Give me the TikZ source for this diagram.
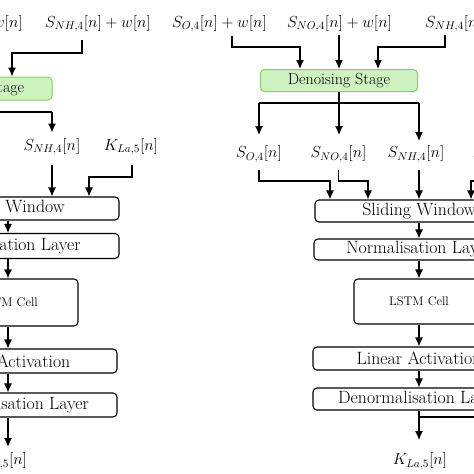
\RequirePackage{fix-cm}
\documentclass[tikz,border=0pt]{standalone}
\usepackage{fontspec}
\usetikzlibrary{arrows.meta}
\definecolor{gfill}{RGB}{206,243,192}
\definecolor{gline}{RGB}{135,205,105}
\begin{document}
\begin{tikzpicture}[x=1pt,y=-1pt,
  every node/.style={font=\fontsize{16}{19}\selectfont},
  box/.style={draw, line width=1.1pt, rounded corners=4pt, inner sep=0pt, font=\fontsize{17.8}{21}\selectfont},
  gbox/.style={draw=gline, fill=gfill, line width=1pt, rounded corners=4pt, inner sep=0pt},
  lbl/.style={inner sep=1.5pt},
  arr/.style={line width=1.3pt, -{Latex[length=9pt,width=8pt]}},
  ln/.style={line width=1.3pt}]
\useasboundingbox (0,0) rectangle (474,474);
\clip (0,0) rectangle (474,474);
\fill[white] (0,0) rectangle (474,474);

% ---------------- Right column ----------------
\node[lbl] (tO) at (219.5,23.5) {$S_{O,4}[n]+w[n]$};
\node[lbl] (tNO) at (339.5,23.5) {$S_{NO,4}[n]+w[n]$};
\node[lbl,anchor=west] (tNH) at (423.5,23.5) {$S_{NH,4}[n]+w[n]$};
\node[gbox, minimum width=157pt, minimum height=22pt] (den) at (339,80.5) {Denoising Stage};

\coordinate (c1) at (232,47); \coordinate (c2) at (300,47);
\draw[arr] ([yshift=-3pt]tO.south -| c1) -- (c1) -- (c2) -- (c2 |- den.north);
\draw[arr] ([yshift=-2pt]tNO.south -| den.north) -- (den.north);
\coordinate (c3) at (445,47); \coordinate (c4) at (378,47);
\draw[arr] ([yshift=-2pt]tNH.south -| c3) -- (c3) -- (c4) -- (c4 |- den.north);

\node[lbl] (oO) at (259,154) {$S_{O,4}[n]$};
\node[lbl] (oNO) at (338.5,154) {$S_{NO,4}[n]$};
\node[lbl] (oNH) at (416,154) {$S_{NH,4}[n]$};
\node[lbl] (oK) at (500,154) {$K_{La,5}[n]$};

\coordinate (b0) at (339,103); \coordinate (bL) at (259,103); \coordinate (bR) at (419,103);
\draw[ln] (den.south) -- (b0);
\draw[ln] (bL) -- (bR);
\draw[arr] (bL) -- ([yshift=9pt]oO.north -| bL);
\draw[arr] (b0) -- ([yshift=9pt]oNO.north -| b0);
\draw[arr] (bR) -- ([yshift=3pt]oNH.north -| bR);

\node[box, minimum width=208pt, minimum height=22pt] (sw) at (419,211) {Sliding Window};
\coordinate (d1) at (259,181); \coordinate (d2) at (330,181);
\draw[arr] ([yshift=-6pt]oO.south) -- (d1) -- (d2) -- (d2 |- sw.north);
\coordinate (d3) at (338.5,181); \coordinate (d4) at (368,181);
\draw[arr] ([yshift=-6pt]oNO.south) -- (d3) -- (d4) -- (d4 |- sw.north);
\draw[arr] ([yshift=-6pt]oNH.south -| sw.north) -- (sw.north);
\coordinate (d5) at (500,181); \coordinate (d6) at (471,181);
\draw[arr] ([yshift=-6pt]oK.south) -- (d5) -- (d6) -- (d6 |- sw.north);

\node[box, minimum width=210pt, minimum height=21pt] (nl) at (419,249.5) {Normalisation Layer};
\node[box, minimum width=130pt, minimum height=45pt, font=\fontsize{12.5}{15}\selectfont] (lstm) at (419,301.5) {LSTM Cell};
\node[box, minimum width=212pt, minimum height=23pt] (la) at (419,358.5) {Linear Activation};
\node[box, minimum width=212pt, minimum height=22pt] (dn) at (419,399) {Denormalisation Layer};
\node[lbl] (oKr) at (420,461) {$K_{La,5}[n]$};

\draw[arr] (sw.south) -- (nl.north);
\draw[arr] (nl.south) -- (lstm.north);
\draw[arr] (lstm.south) -- (la.north);
\draw[arr] (la.south) -- (dn.north);
\draw[arr] (dn.south) -- ([yshift=11pt]oKr.north -| dn.south);
\coordinate (br) at (490,417);
\draw[ln] (dn.south |- br) -- (br);

% ---------------- Left column ----------------
\node[lbl, anchor=east] (ltNO) at (24.5,23.5) {$S_{NO,4}[n]+w[n]$};
\node[lbl] (ltNH) at (98,23.5) {$S_{NH,4}[n]+w[n]$};
\node[gbox, minimum width=158pt, minimum height=23pt] (lden) at (-27,88.5) {Denoising Stage};
\coordinate (e1) at (82,53); \coordinate (e2) at (12,53);
\draw[arr] ([yshift=-7pt]ltNH.south -| e1) -- (e1) -- (e2) -- (e2 |- lden.north);

\node[lbl] (loNH) at (52,146.5) {$S_{NH,4}[n]$};
\node[lbl] (loK) at (131,146.5) {$K_{La,5}[n]$};
\coordinate (f0) at (-27,112); \coordinate (f1) at (52,112); \coordinate (fL) at (-106,112);
\draw[ln] (lden.south) -- (f0);
\draw[ln] (fL) -- (f1);
\draw[arr] (f1) -- ([yshift=4pt]loNH.north -| f1);

\node[box, minimum width=222pt, minimum height=23pt] (lsw) at (8,208.5) {Sliding Window};
\draw[arr] ([yshift=-9pt]loNH.south) -- (loNH.south |- lsw.north);
\coordinate (g1) at (132,177); \coordinate (g2) at (89,177);
\draw[arr] ([yshift=-9pt]loK.south -| g1) -- (g1) -- (g2) -- (g2 |- lsw.north);

\node[box, minimum width=222pt, minimum height=25pt] (lnl) at (8,246) {Normalisation Layer};
\node[box, minimum width=140pt, minimum height=47pt, font=\fontsize{12.5}{15}\selectfont] (llstm) at (8,302.5) {LSTM Cell};
\node[box, minimum width=218pt, minimum height=24pt] (lla) at (8,361) {Linear Activation};
\node[box, minimum width=218pt, minimum height=24pt] (ldn) at (8,405) {Denormalisation Layer};
\node[lbl] (loKb) at (0,461) {$K_{La,5}[n]$};

\draw[arr] (lsw.south) -- (lnl.north);
\draw[arr] (lnl.south) -- (llstm.north);
\draw[arr] (llstm.south) -- (lla.north);
\draw[arr] (lla.south) -- (ldn.north);
\draw[arr] (ldn.south) -- ([yshift=4pt]loKb.north -| ldn.south);
\end{tikzpicture}
\end{document}
